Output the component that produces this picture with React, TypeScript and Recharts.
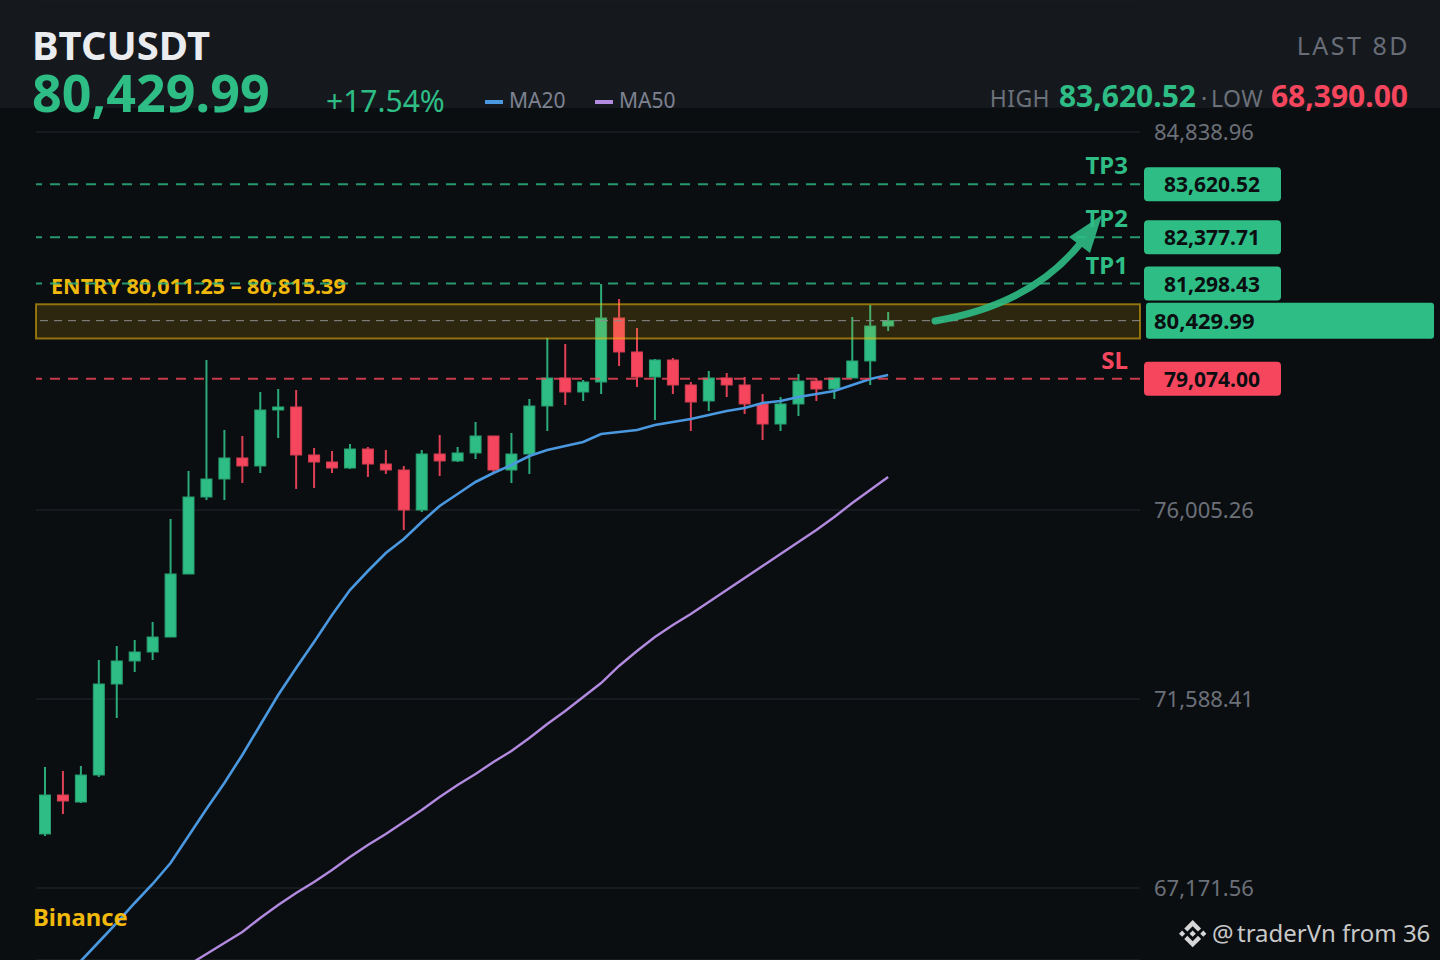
import React from "react"
import { Bar, CartesianGrid, ComposedChart, Line, ReferenceArea, ReferenceLine, XAxis, YAxis } from "recharts"

const GREEN = "#2ebd85"
const RED = "#f6465d"
const YELLOW = "#f0b90b"
const BLUE = "#4a98e0"
const PURPLE = "#b28ae0"
const BG = "#0b0e11"
const FONT = "'Noto Sans', sans-serif"

const opens = [
  68434, 69345, 69181, 69812, 71939, 72477, 72687, 73037, 74510, 76309, 76730, 77221,
  77034, 78342, 78413, 77291, 77127, 76987, 77431, 77080, 76940, 76005, 77314, 77151,
  77338, 77735, 76940, 77314, 78436, 79090, 78763, 78997, 80492, 79698, 79114, 79511,
  78927, 78553, 79090, 78927, 78483, 78015, 78483, 79020, 78833, 79090, 79488, 80305,
]
const highs = [
  69999, 69906, 70023, 72500, 72827, 72967, 73388, 75795, 76917, 79511, 77875, 77735,
  78763, 78833, 78810, 77454, 77384, 77548, 77478, 77408, 77034, 77408, 77758, 77478,
  78062, 77735, 77805, 78599, 80025, 79885, 79044, 81287, 80936, 80259, 79534, 79558,
  78997, 79254, 79207, 79114, 78716, 78646, 79184, 79090, 79090, 80516, 80796, 80633,
]
const lows = [
  68387, 68901, 69158, 69766, 71144, 72219, 72500, 73037, 74510, 76239, 76239, 76636,
  76870, 77688, 76496, 76520, 76870, 76964, 76777, 76847, 75538, 75959, 76800, 77127,
  77197, 76893, 76636, 76847, 77852, 78459, 78553, 78716, 79371, 78880, 78109, 78716,
  77852, 78319, 78646, 78249, 77641, 77852, 78202, 78553, 78599, 79090, 78927, 80189,
]
const closes = [
  69345, 69205, 69812, 71939, 72477, 72687, 73037, 74510, 76309, 76730, 77221, 77034,
  78342, 78413, 77291, 77127, 76987, 77431, 77080, 76940, 76005, 77314, 77151, 77338,
  77735, 76940, 77314, 78436, 79090, 78763, 78997, 80492, 79698, 79114, 79511, 78927,
  78529, 79090, 78927, 78483, 78015, 78483, 79020, 78833, 79090, 79488, 80305, 80429.99,
]
const ma20 = [
  null, 64998, 65466, 65910, 66354, 66821, 67265, 67756, 68387, 69018, 69626, 70280,
  70981, 71682, 72313, 72921, 73552, 74136, 74580, 75001, 75328, 75725, 76099, 76380,
  76660, 76870, 77057, 77267, 77408, 77501, 77595, 77782, 77828, 77875, 77992, 78062,
  78132, 78226, 78319, 78389, 78506, 78553, 78646, 78716, 78786, 78927, 79067, 79160,
]
const ma50 = [
  null, null, null, null, null, null, null, null, 65372, 65629, 65886, 66143,
  66470, 66774, 67055, 67312, 67592, 67896, 68176, 68434, 68714, 68994, 69298, 69579,
  69836, 70116, 70373, 70677, 71004, 71308, 71635, 71962, 72360, 72710, 73037, 73318,
  73575, 73855, 74136, 74416, 74697, 74977, 75258, 75538, 75842, 76169, 76473, 76777,
]

const axisTicks = [84838.96, 76005.26, 71588.41, 67171.56]
const targetNames = ["TP3", "TP2", "TP1", "SL"]
const targetPrices = [83620.52, 82377.71, 81298.43, 79074.0]
const entryLow = 80011.25
const entryHigh = 80815.39
const lastPrice = 80429.99
const periodHigh = 83620.52
const periodLow = 68390.0

const candles = opens.map((open, i) => ({
  i,
  open,
  high: highs[i],
  low: lows[i],
  close: closes[i],
  ma20: ma20[i],
  ma50: ma50[i],
}))

const fmt = (v: number) => v.toLocaleString("en-US", { minimumFractionDigits: 2, maximumFractionDigits: 2 })

const Candle = (props: any) => {
  const { x, y, width, height, payload } = props
  const up = payload.close >= payload.open
  const color = up ? GREEN : RED
  const edge = up ? "#279f71" : "#d33f53"
  const range = payload.high - payload.low
  const at = (v: number) => y + ((payload.high - v) / range) * height
  const top = at(Math.max(payload.open, payload.close))
  const bottom = at(Math.min(payload.open, payload.close))
  const cx = x + width / 2
  return (
    <g>
      <line x1={cx} x2={cx} y1={y} y2={y + height} stroke={color} strokeWidth={2} strokeOpacity={0.9} />
      <rect x={cx - 5.5} y={top} width={11} height={Math.max(bottom - top, 1)} fill={color} stroke={edge} strokeWidth={1} />
    </g>
  )
}

const TargetLabel = ({ viewBox, name, price, color }: any) => {
  const right = viewBox.x + viewBox.width
  const y = viewBox.y
  return (
    <g fontFamily={FONT}>
      <text x={right - 12} y={y - 10} textAnchor="end" fontSize={24} fontWeight={700} fill={color}>
        {name}
      </text>
      <rect x={right + 4} y={y - 17} width={137} height={34} rx={4} fill={color} />
      <text x={right + 72} y={y + 8} textAnchor="middle" fontSize={21} fontWeight={700} fill={BG}>
        {fmt(price)}
      </text>
    </g>
  )
}

const LastLabel = ({ viewBox }: any) => {
  const right = viewBox.x + viewBox.width
  const y = viewBox.y
  return (
    <g fontFamily={FONT}>
      <rect x={right + 6} y={y - 18} width={288} height={36} rx={3} fill={GREEN} />
      <text x={right + 14} y={y + 8} fontSize={22} fontWeight={700} fill={BG}>
        {fmt(lastPrice)}
      </text>
    </g>
  )
}

const EntryLabel = ({ viewBox }: any) => (
  <text
    x={viewBox.x + 15}
    y={viewBox.y - 10}
    fontFamily={FONT}
    fontSize={21.6}
    fontWeight={700}
    fill={YELLOW}
    stroke={BG}
    strokeWidth={3}
    paintOrder="stroke"
  >
    {`ENTRY ${fmt(entryLow)} – ${fmt(entryHigh)}`}
  </text>
)

const Overlay = () => (
  <svg
    width={1440}
    height={960}
    style={{ position: "absolute", left: 0, top: 0, pointerEvents: "none" }}
    fontFamily={FONT}
  >
    <text x={32} y={60} fontSize={40} fontWeight={700} fill="#eaecef">BTCUSDT</text>
    <text x={32} y={112} fontSize={52} fontWeight={700} fill={GREEN}>{fmt(lastPrice)}</text>
    <text x={326} y={112} fontSize={30} fill={GREEN}>+17.54%</text>

    <rect x={485} y={100} width={18} height={4} fill={BLUE} />
    <text x={509} y={108} fontSize={21} fill="#7d8290">MA20</text>
    <rect x={595} y={100} width={18} height={4} fill={PURPLE} />
    <text x={619} y={108} fontSize={21} fill="#7d8290">MA50</text>

    <text x={1410} y={55} textAnchor="end" fontSize={25} letterSpacing={2.5} fill="#686d78">LAST 8D</text>
    <text x={1050} y={107} textAnchor="end" fontSize={23} letterSpacing={0.4} fill="#6b7079">HIGH</text>
    <text x={1196} y={107} textAnchor="end" fontSize={30} fontWeight={700} fill={GREEN}>{fmt(periodHigh)}</text>
    <text x={1204} y={107} textAnchor="middle" fontSize={23} fill="#6b7079">·</text>
    <text x={1263} y={107} textAnchor="end" fontSize={23} letterSpacing={0.4} fill="#6b7079">LOW</text>
    <text x={1408} y={107} textAnchor="end" fontSize={30} fontWeight={700} fill={RED}>{fmt(periodLow)}</text>

    <text x={33} y={926} fontSize={23.8} fontWeight={700} fill={YELLOW}>Binance</text>
    <g transform="translate(1179 920) scale(0.216)" fill="#d6d6d6">
      <path d="m38.73 53.2 24.59-24.58 24.6 24.6 14.3-14.31L63.32 0 24.42 38.9l14.31 14.3zm-38.73 10.11 14.31-14.31 14.31 14.31-14.31 14.31zm38.73 10.1 24.59 24.59 24.6-24.6 14.31 14.29-38.9 38.91-38.91-38.88v-.02l14.31-14.29zm59.57-10.1 14.31-14.31 14.31 14.31-14.31 14.31z" />
      <path d="m77.83 63.3-14.51-14.52-10.73 10.73-1.24 1.23-2.54 2.54v.02l14.51 14.5 14.51-14.5z" />
    </g>
    <text x={1212} y={942} fontSize={24} fill="#c8c8c8">
      @<tspan x={1237}>traderVn from 36</tspan>
    </text>

    <g opacity={0.9}>
      <path d="M935 321 Q1030 305 1079 245" fill="none" stroke={GREEN} strokeWidth={7} strokeLinecap="round" />
      <path d="M1102 215 L1069 237 L1090 253 Z" fill={GREEN} />
    </g>
  </svg>
)

export default function App() {
  return (
    <div style={{ position: "absolute", left: 0, top: 0, width: 1440, height: 960, background: BG, overflow: "hidden" }}>
      <div style={{ position: "absolute", left: 0, top: 0, width: 1440, height: 108, background: "#15191e" }} />
      <div style={{ position: "absolute", left: 0, top: 0 }}>
        <ComposedChart width={1440} height={960} data={candles} margin={{ top: 0, right: 0, bottom: 0, left: 36 }}>
          <CartesianGrid vertical={false} stroke="#171a1f" strokeWidth={2} />
          <XAxis dataKey="i" type="number" hide domain={[-0.5, 61.04]} allowDataOverflow />
          <YAxis
            orientation="right"
            width={300}
            domain={[65488.95, 87923.8]}
            allowDataOverflow
            ticks={axisTicks}
            interval={0}
            axisLine={false}
            tickLine={false}
            tickSize={0}
            tickMargin={14}
            tick={{ fill: "#6b7079", fontSize: 22, fontFamily: FONT }}
            tickFormatter={fmt}
          />
          <Bar dataKey={(d: any) => [d.low, d.high]} barSize={12} shape={<Candle />} isAnimationActive={false} />
          <Line dataKey="ma20" stroke={BLUE} strokeWidth={2.6} dot={false} isAnimationActive={false} />
          <Line dataKey="ma50" stroke={PURPLE} strokeWidth={2.4} dot={false} isAnimationActive={false} />
          <ReferenceArea
            y1={entryLow}
            y2={entryHigh}
            fill={YELLOW}
            fillOpacity={0.15}
            stroke={YELLOW}
            strokeOpacity={0.55}
            strokeWidth={2}
            label={<EntryLabel />}
            {...({ zIndex: 350 } as any)}
          />
          {targetNames.map((name, k) => {
            const color = name === "SL" ? RED : GREEN
            return (
              <ReferenceLine
                key={name}
                y={targetPrices[k]}
                stroke={color}
                strokeWidth={2}
                strokeOpacity={0.8}
                strokeDasharray="10 8"
                label={<TargetLabel name={name} price={targetPrices[k]} color={color} />}
              />
            )
          })}
          <ReferenceLine y={lastPrice} stroke="#8c8c8c" strokeWidth={1} strokeDasharray="8 6" label={<LastLabel />} />
        </ComposedChart>
      </div>
      <Overlay />
    </div>
  )
}
